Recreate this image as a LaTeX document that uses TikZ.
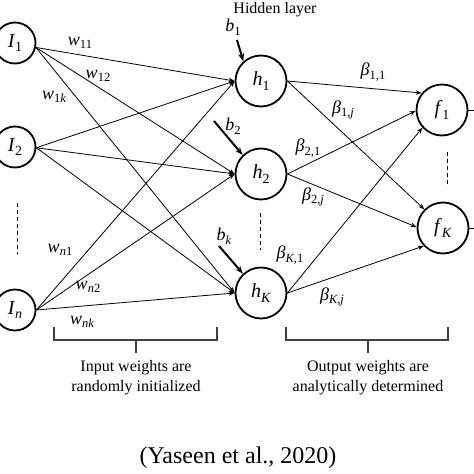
\documentclass[tikz,border=0pt]{standalone}
\usepackage{fontspec}
\setmainfont{Liberation Serif}
\usetikzlibrary{arrows.meta}
\newcommand{\lbl}[3][12.5pt]{\textit{#2}\raisebox{-0.45ex}{\fontsize{#1}{#1}\selectfont #3}}
\newcommand{\nlbl}[2]{\lbl[14pt]{#1}{#2}}
\begin{document}
\begin{tikzpicture}[x=1pt,y=-1pt,
  neuron/.style={circle,draw,line width=1.8pt,inner sep=0pt,font=\fontsize{20pt}{20pt}\selectfont},
  inode/.style={neuron,minimum size=41pt},
  hnode/.style={neuron,minimum size=51pt},
  wire/.style={line width=0.8pt,-{Stealth[length=6pt,width=4.5pt]}},
  bias/.style={line width=2pt,-{Stealth[length=8pt,width=6pt]}},
  wlab/.style={font=\fontsize{18pt}{18pt}\selectfont,inner sep=1pt},
  dots/.style={line width=1pt,dash pattern=on 4pt off 3pt},
  brace/.style={line width=1.2pt,draw=black!75},
  btext/.style={font=\fontsize{16pt}{20pt}\selectfont,align=center}]
\useasboundingbox (0,0) rectangle (474,474);
% input nodes
\node[inode] (I1) at (15,43) {\nlbl{I}{1}};
\node[inode] (I2) at (15,147) {\nlbl{I}{2}};
\node[inode] (In) at (15,310) {\nlbl{I}{\textit{n}}};
% hidden nodes
\node[hnode] (h1) at (261,81) {\nlbl{h}{1}};
\node[hnode] (h2) at (261,174) {\nlbl{h}{2}};
\node[hnode] (hK) at (261,293) {\nlbl{h}{\textit{K}}};
% output nodes
\node[hnode] (f1) at (442,110) {\nlbl{f}{1}};
\node[hnode] (fK) at (443,228) {\nlbl{f}{\textit{K}}};
% input to hidden
\foreach \i/\a in {I1/-12,I2/-2,In/0}{
  \foreach \h in {h1,h2,hK}{
    \draw[wire] (\i.\a) -- (\h.west);
  }
}
% hidden to output
\draw[wire] (h1.east) -- (f1.140);
\draw[wire] (h1.east) -- (fK.135);
\draw[wire] (h2.east) -- (f1.182);
\draw[wire] (h2.east) -- (fK.178);
\draw[wire] (hK.east) -- (f1.222);
\draw[wire] (hK.east) -- (fK.223);
% output stubs
\coordinate (o1) at (474,110);
\coordinate (oK) at (474,228);
\draw[line width=0.8pt] (f1.east) -- (o1);
\draw[line width=0.8pt] (fK.east) -- (oK);
% bias arrows
\coordinate (b1s) at (237,40);
\coordinate (b2s) at (214,121);
\coordinate (bks) at (219,246);
\draw[bias] (b1s) -- (h1.132);
\draw[bias] (b2s) -- (h2.134);
\draw[bias] (bks) -- (hK.133);
\node[wlab] (b1) at (233,27) {\lbl{b}{1}};
\node[wlab] (b2) at (233,126) {\lbl{b}{2}};
\node[wlab] (bk) at (224,236) {\lbl{b}{\textit{k}}};
\node[font=\fontsize{16pt}{17pt}\selectfont,inner sep=0pt] (hl) at (275,9.5) {Hidden layer};
% dotted separators
\coordinate (d1a) at (17,203); \coordinate (d1b) at (17,254);
\coordinate (d2a) at (260,213); \coordinate (d2b) at (260,250);
\coordinate (d3a) at (447,152); \coordinate (d3b) at (447,187);
\draw[dots] (d1a) -- (d1b);
\draw[dots] (d2a) -- (d2b);
\draw[dots] (d3a) -- (d3b);
% weight labels
\node[wlab] (w11) at (80,43) {\lbl{w}{11}};
\node[wlab] (w12) at (98,76) {\lbl{w}{12}};
\node[wlab] (w1k) at (54,97) {\lbl{w}{1\textit{k}}};
\node[wlab] (wn1) at (60,250) {\lbl{w}{\textit{n}1}};
\node[wlab] (wn2) at (88,287) {\lbl{w}{\textit{n}2}};
\node[wlab] (wnk) at (82,322) {\lbl{w}{\textit{nk}}};
\node[wlab] (be11) at (373,72) {\lbl{β}{1,1}};
\node[wlab] (be1j) at (343,110) {\lbl{β}{1,\textit{j}}};
\node[wlab] (be21) at (308,148) {\lbl{β}{2,1}};
\node[wlab] (be2j) at (313,197) {\lbl{β}{2,\textit{j}}};
\node[wlab] (beK1) at (290,255) {\lbl{β}{\textit{K},1}};
\node[wlab] (beKj) at (332,297) {\lbl{β}{\textit{K},\textit{j}}};
% brackets
\coordinate (L1) at (54,327); \coordinate (L2) at (54,340);
\coordinate (L3) at (217,340); \coordinate (L4) at (217,327);
\coordinate (Lm) at (136,340); \coordinate (Ln) at (136,353);
\draw[brace] (L1) -- (L2) -- (L3) -- (L4);
\draw[brace] (Lm) -- (Ln);
\coordinate (R1) at (286,327); \coordinate (R2) at (286,340);
\coordinate (R3) at (448,340); \coordinate (R4) at (448,327);
\coordinate (Rm) at (368,340); \coordinate (Rn) at (368,353);
\draw[brace] (R1) -- (R2) -- (R3) -- (R4);
\draw[brace] (Rm) -- (Rn);
\node[btext] (tin) at (136,378) {Input weights are\\randomly initialized};
\node[btext] (tout) at (368,378) {Output weights are\\analytically determined};
\node[font=\fontsize{24pt}{24pt}\selectfont] (cite) at (238,458) {(Yaseen et al., 2020)};
\end{tikzpicture}
\end{document}
